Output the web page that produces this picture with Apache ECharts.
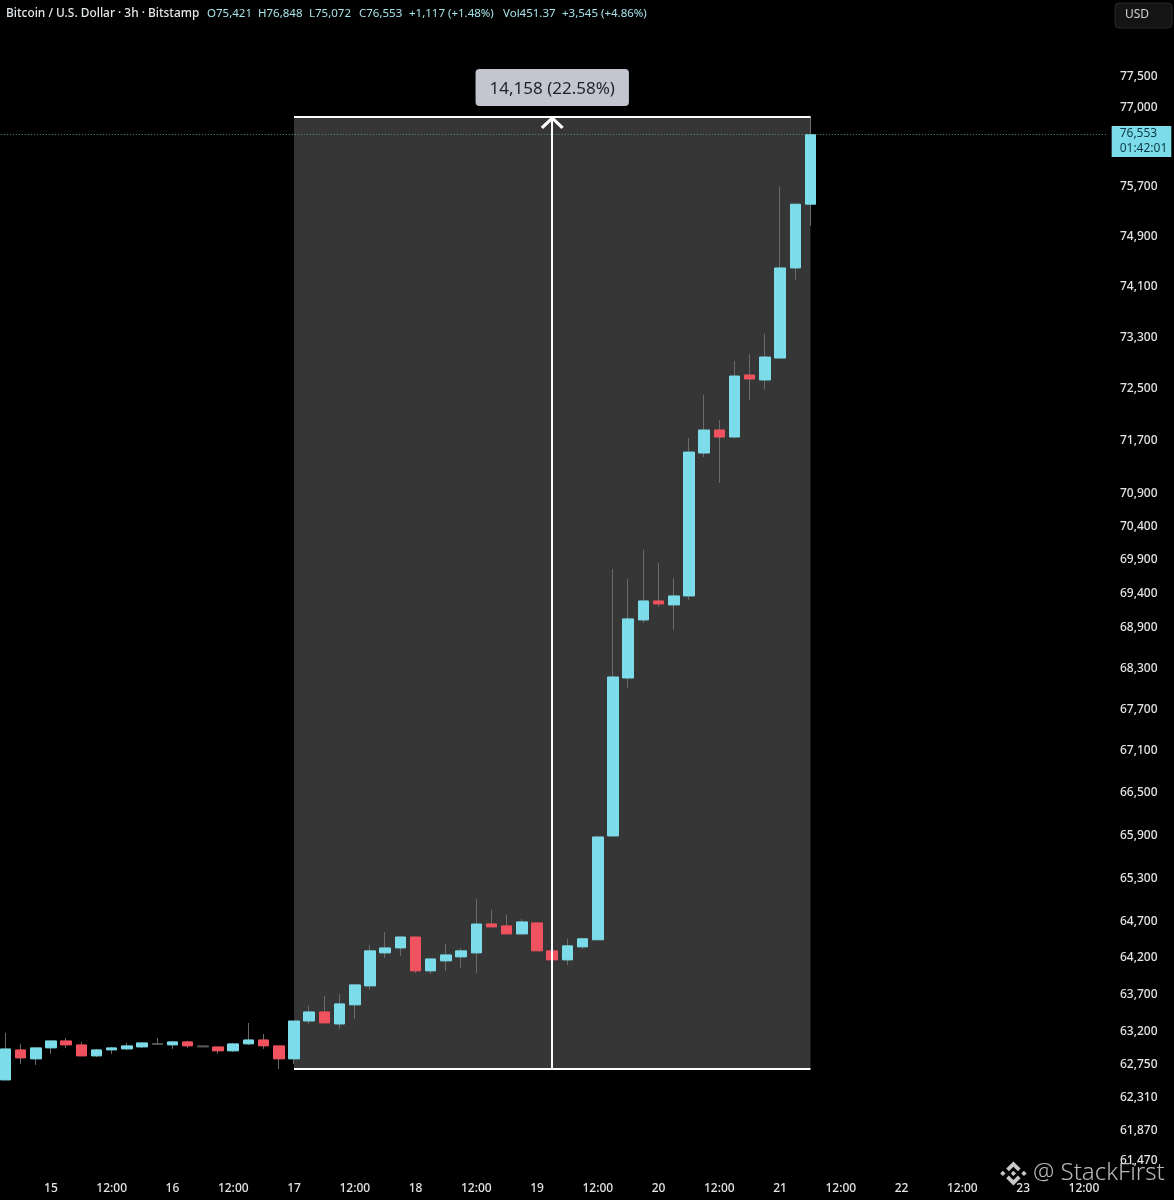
<!DOCTYPE html>
<html><head><meta charset="utf-8">
<style>html,body{margin:0;padding:0;background:#000}#c{width:1174px;height:1200px}</style>
<script src="https://cdn.jsdelivr.net/npm/echarts@6/dist/echarts.min.js"></script>
</head><body><div id="c"></div>
<script>
const opens=[62544,62947,62826,62974,63068,63014,62866,62947,62960,62987,63021,63014,63055,63001,62987,62934,63028,63081,63001,62826,63337,63460,63297,63556,63814,64266,64334,64485,64019,64156,64211,64266,64665,64638,64527,64679,64294,64170,64349,64446,65893,68156,69007,69288,69229,69362,71514,71867,71759,72717,72639,72981,74400,75421];
const closes=[62960,62839,62974,63068,63014,62866,62947,62974,63001,63041,63034,63055,63001,62987,62934,63028,63081,63001,62826,63337,63460,63311,63569,63828,64294,64334,64485,64019,64183,64238,64294,64664,64624,64527,64693,64294,64170,64363,64460,65879,68171,69022,69288,69243,69362,71529,71867,71759,72701,72655,72997,74400,75421,76553];
const lows=[62544,62758,62745,62893,62974,62866,62852,62893,62947,62974,63014,62960,62974,62987,62893,62920,63014,62960,62690,62758,63297,63311,63230,63365,63760,64197,64225,63991,63978,64019,64060,63991,64624,64527,64527,64294,64170,64101,64321,64446,65893,68011,68962,69199,68859,69303,71453,71057,71744,72329,72484,72981,74209,75072];
const highs=[63176,63028,62974,63068,63108,63055,62960,62987,63041,63041,63108,63068,63068,63001,62987,63041,63310,63162,63001,63337,63542,63678,63705,63828,64377,64554,64485,64485,64183,64389,64334,65012,64859,64790,64735,64679,64294,64460,64460,65879,69763,69614,70047,69852,69629,71744,72407,72021,72935,73044,73357,75715,75421,76848];
const priceTicks=[77500,77000,75700,74900,74100,73300,72500,71700,70900,70400,69900,69400,68900,68300,67700,67100,66500,65900,65300,64700,64200,63700,63200,62750,62310,61870,61470];
const timeTicks=["15","12:00","16","12:00","17","12:00","18","12:00","19","12:00","20","12:00","21","12:00","22","12:00","23","12:00"];
const dojiCandles=[10,13];
const lastPrice=76553, rangeHigh=76848, rangeLow=62690;
const rangeStart=19, rangeEnd=53, arrowAt=36;
const rangeLabel="14,158 (22.58%)";
const slots=73;

const CY='#7ddcea',RD='#f0525f',F='"Noto Sans",sans-serif';
const fmt=v=>Number(v).toLocaleString('en-US');
const cats=Array.from({length:slots},(_,i)=>String(i));
const wicks=opens.map((o,i)=>[o,closes[i],lows[i],highs[i]]);
const bodies=opens.map((o,i)=>{
  const d=[o,closes[i],Math.min(o,closes[i]),Math.max(o,closes[i])];
  return dojiCandles.includes(i)?{value:d,itemStyle:{color:'#5a5a5a',color0:'#5a5a5a',borderColor:'#5a5a5a',borderColor0:'#5a5a5a'}}:d;
});
const chevron='path://M0 10L10 0L20 10L18 12L10 4L2 12Z';
const whiteLine={color:'#fff',width:2,type:'solid'};

function txt(x,y,t,fill,size,extra){return {type:'text',x,y,silent:true,z:50,style:Object.assign({text:t,fill,font:(size||11.5)+'px '+F,textVerticalAlign:'middle'},extra||{})};}
const head='#e4e7ea',val='#a6e3ea';
const logoParts=[
  [[12,9.8],[14.2,12],[12,14.2],[9.8,12]],
  [[12,2],[18,8],[15.8,10.2],[12,6.4],[8.2,10.2],[6,8]],
  [[12,22],[18,16],[15.8,13.8],[12,17.6],[8.2,13.8],[6,16]],
  [[1,12],[3.2,9.8],[5.4,12],[3.2,14.2]],
  [[23,12],[20.8,9.8],[18.6,12],[20.8,14.2]]
];
const logo=logoParts.map(p=>({type:'polygon',x:999,y:1159,scaleX:1.2,scaleY:1.2,silent:true,z:60,shape:{points:p},style:{fill:'#c8c8c8'}}));

const chart=echarts.init(document.getElementById('c'),null,{renderer:'canvas'});
chart.setOption({
  animation:false,backgroundColor:'#000',
  grid:{left:-2.2,top:41,width:slots*15.19,height:1132,outerBoundsMode:'none',containLabel:false},
  xAxis:{type:'category',data:cats,boundaryGap:true,
    axisLine:{show:false},axisTick:{show:false},splitLine:{show:false},
    axisLabel:{interval:i=>i>=3&&(i-3)%4===0,margin:10,color:'#e4e4e4',fontFamily:F,fontSize:12,fontWeight:500,
      formatter:(v,i)=>timeTicks[(Number(v)-3)/4]||''}},
  yAxis:{type:'log',logBase:10,position:'right',min:61312,max:78099,scale:true,
    axisLine:{show:false},axisTick:{show:false},splitLine:{show:false},minorTick:{show:false},
    axisLabel:{customValues:priceTicks,margin:13.3,color:'#e4e4e4',fontFamily:F,fontSize:12,fontWeight:500,formatter:v=>fmt(Math.round(v))}},
  series:[
    {type:'candlestick',name:'wick',z:2,barWidth:1,data:wicks,
      itemStyle:{color:'#6a6a6a',color0:'#6a6a6a',borderColor:'#6a6a6a',borderColor0:'#6a6a6a',borderWidth:1},
      markArea:{silent:true,itemStyle:{color:'#363636'},
        data:[[{xAxis:rangeStart,yAxis:rangeHigh},{xAxis:rangeEnd,yAxis:rangeLow}]]}},
    {type:'candlestick',name:'body',z:3,barWidth:11,data:bodies,
      itemStyle:{color:CY,color0:RD,borderColor:CY,borderColor0:RD,borderWidth:1},
      markLine:{silent:true,symbol:'none',animation:false,
        data:[
          {yAxis:lastPrice,lineStyle:{color:'#5f8f88',width:1,type:[1,2]},
            label:{show:true,position:'end',distance:5,formatter:fmt(lastPrice)+'\n01:42:01',backgroundColor:CY,color:'#0c3a44',
              fontFamily:F,fontSize:12,lineHeight:15,padding:[1,4,0,8],align:'left',offset:[0,7]}},
          [{xAxis:rangeStart,yAxis:rangeHigh,lineStyle:whiteLine,label:{show:false}},{xAxis:rangeEnd,yAxis:rangeHigh}],
          [{xAxis:rangeStart,yAxis:rangeLow,lineStyle:whiteLine,label:{show:false}},{xAxis:rangeEnd,yAxis:rangeLow}],
          [{xAxis:arrowAt,yAxis:rangeLow,lineStyle:whiteLine,label:{show:false}},{xAxis:arrowAt,yAxis:rangeHigh}]
        ]},
      markPoint:{silent:true,animation:false,
        data:[
          {coord:[arrowAt,rangeHigh],symbol:chevron,symbolSize:[23,13],symbolOffset:[0,6],itemStyle:{color:'#fff'},label:{show:false}},
          {coord:[arrowAt,rangeHigh],symbol:'rect',symbolSize:1,itemStyle:{color:'transparent'},
            label:{show:true,position:'top',distance:10,formatter:rangeLabel,backgroundColor:'#c3c6d0',borderRadius:4,
              color:'#1f2228',fontFamily:F,fontSize:17,lineHeight:23,padding:[9,14,5,14]}}
        ]}}
  ],
  graphic:[
    txt(6,14,'Bitcoin / U.S. Dollar · 3h · Bitstamp',head,11.9,{font:'500 11.9px '+F}),
    txt(207,14,'O75,421',val),txt(258,14,'H76,848',val),txt(309,14,'L75,072',val),txt(359,14,'C76,553',val),
    txt(409,14,'+1,117 (+1.48%)',val),txt(503,14,'Vol451.37',val),txt(562,14,'+3,545 (+4.86%)',val),
    {type:'rect',x:1115,y:3,silent:true,z:49,shape:{width:57,height:25,r:4},style:{fill:'#141414',stroke:'#2a2a2a',lineWidth:1}},
    txt(1125,15,'USD','#d0d0d0',12),
    ...logo,
    txt(1033,1173,'@ StackFirst','rgba(205,205,205,0.9)',24,{font:'300 24px '+F})
  ]
});
</script></body></html>
